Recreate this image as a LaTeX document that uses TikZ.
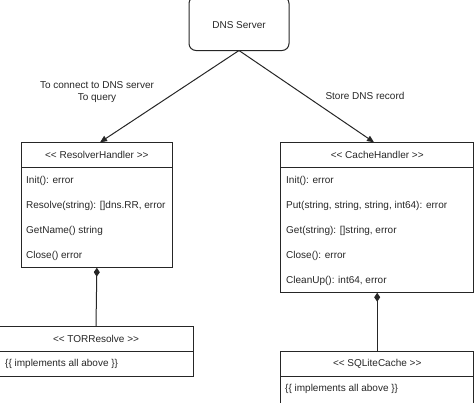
\documentclass[tikz,border=0pt]{standalone}
\usepackage{fontspec}
\setmainfont{Liberation Sans}
\usetikzlibrary{arrows.meta,calc}
\begin{document}
\begin{tikzpicture}[x=1pt,y=-1pt,
  every node/.style={font=\fontsize{10}{12}\selectfont, text=black!85},
  box/.style={draw=black!85, line width=1pt, inner sep=0pt, outer sep=0pt, anchor=north west, rectangle},
  row/.style={anchor=west, inner sep=0pt},
  conn/.style={draw=black!85, line width=1pt},
  lbl/.style={align=center, inner sep=0pt}
]
\useasboundingbox (0,0) rectangle (474,402);
% DNS server
\node[box, rounded corners=7pt, minimum width=100pt, minimum height=54pt] (dns) at (189,-3.5) {};
\node (dnst) at (239,25) {DNS Server};
% ResolverHandler
\node[box, minimum width=150.3pt, minimum height=25pt] (res) at (21.7,142.3) {};
\node at (res.center) {<{}< ResolverHandler >{}>};
\node[box, minimum width=150.3pt, minimum height=100.4pt] (resb) at (21.7,167.3) {};
\node[row] (r1) at (26,180.7) {Init(): error};
\node[row] (r2) at (26,205.5) {Resolve(string): []dns.RR, error};
\node[row] (r3) at (26,230.5) {GetName() string};
\node[row] (r4) at (26,255.7) {Close() error};
% CacheHandler
\node[box, minimum width=193pt, minimum height=25pt] (cache) at (280.7,142.3) {};
\node at (cache.center) {<{}< CacheHandler >{}>};
\node[box, minimum width=193pt, minimum height=125.4pt] (cacheb) at (280.7,167.3) {};
\node[row] (c1) at (286,180.7) {Init(): error};
\node[row] (c2) at (286,205.5) {Put(string, string, string, int64): error};
\node[row] (c3) at (286,230.5) {Get(string): []string, error};
\node[row] (c4) at (286,255.7) {Close(): error};
\node[row] (c5) at (286,280.7) {CleanUp(): int64, error};
% TORResolve
\node[box, minimum width=194pt, minimum height=25pt] (tor) at (-1,326) {};
\node at (tor.center) {<{}< TORResolve >{}>};
\node[box, minimum width=194pt, minimum height=25pt] (torb) at (-1,351) {};
\node[row] (t1) at (5,363.5) {\{\{ implements all above \}\}};
% SQLiteCache
\node[box, minimum width=193pt, minimum height=25pt] (sql) at (280.7,351) {};
\node at (sql.center) {<{}< SQLiteCache >{}>};
\node[box, minimum width=193pt, minimum height=27pt] (sqlb) at (280.7,376) {};
\node[row] (s1) at (285,388.5) {\{\{ implements all above \}\}};
% connectors
\draw[conn, -{Triangle[length=7pt,width=6pt]}] (dns.south) -- ($(res.north)+(3.2,0)$);
\draw[conn, -{Triangle[length=7pt,width=6pt]}] (dns.south) -- ($(cache.north)+(-3.2,0)$);
\draw[conn, {Diamond[length=9pt,width=6pt]}-] (resb.south) -- (tor.north);
\draw[conn, {Diamond[length=9pt,width=6pt]}-] (cacheb.south) -- (sql.north);
% labels
\node[lbl] (l1) at (97,92.3) {To connect to DNS server\\To query};
\node[lbl] (l2) at (365,95.7) {Store DNS record};
\end{tikzpicture}
\end{document}
